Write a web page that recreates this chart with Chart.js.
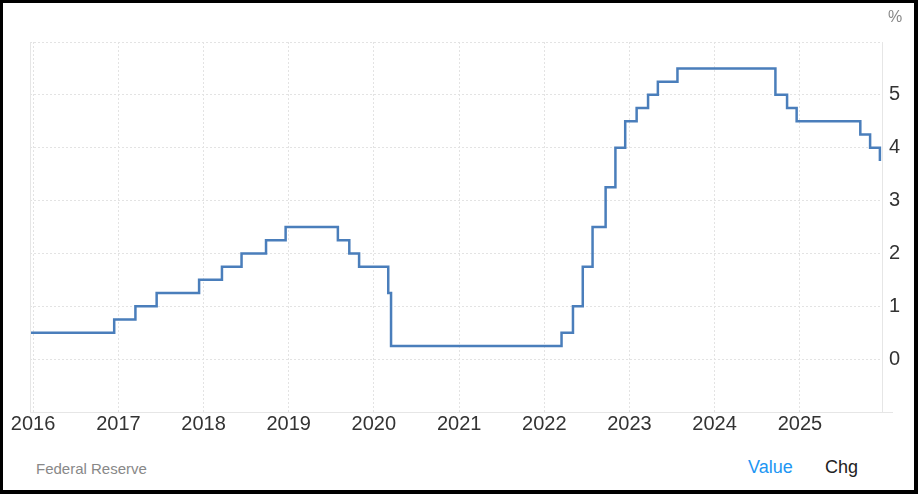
<!DOCTYPE html>
<html>
<head>
<meta charset="utf-8">
<script src="https://cdn.jsdelivr.net/npm/chart.js@4.4.1/dist/chart.umd.min.js"></script>
<style>
    html, body {
        margin: 0;
        padding: 0;
        background: #fff;
    }
    .frame {
        position: relative;
        width: 918px;
        height: 494px;
        box-sizing: border-box;
        border: 3px solid #000;
        border-right-width: 4px;
        border-bottom-width: 4px;
        background: #fff;
        font-family: "Liberation Sans", Arial, sans-serif;
    }
    .chart-box {
        position: absolute;
        left: 0;
        top: 0;
        width: 911px;
        height: 440px;
    }
    .unit {
        position: absolute;
        left: 885px;
        top: 5px;
        font-size: 16px;
        color: #888;
    }
    .source {
        position: absolute;
        left: 33px;
        top: 457px;
        font-size: 15px;
        color: #888;
    }
    .tab {
        position: absolute;
        top: 454px;
        font-size: 18px;
    }
    .tab.value { left: 745px; color: #2196f3; }
    .tab.chg { left: 822px; color: #222; }
</style>
</head>
<body>
<div class="frame">
    <div class="chart-box"><canvas id="rate-chart"></canvas></div>
    <div class="unit">%</div>
    <div class="source">Federal Reserve</div>
    <div class="tab value">Value</div>
    <div class="tab chg">Chg</div>
</div>
<script>
    // fed funds target (upper bound), one point per change
    const changeDates = [
        '2015-12-16', '2016-12-14', '2017-03-15', '2017-06-14', '2017-12-13',
        '2018-03-21', '2018-06-13', '2018-09-26', '2018-12-19', '2019-07-31',
        '2019-09-18', '2019-10-30', '2020-03-03', '2020-03-15', '2022-03-16',
        '2022-05-04', '2022-06-15', '2022-07-27', '2022-09-21', '2022-11-02',
        '2022-12-14', '2023-02-01', '2023-03-22', '2023-05-03', '2023-07-26',
        '2024-09-18', '2024-11-07', '2024-12-18', '2025-09-17', '2025-10-29',
        '2025-12-10'
    ];
    const rates = [
        0.50, 0.75, 1.00, 1.25, 1.50,
        1.75, 2.00, 2.25, 2.50, 2.25,
        2.00, 1.75, 1.25, 0.25, 0.50,
        1.00, 1.75, 2.50, 3.25, 4.00,
        4.50, 4.75, 5.00, 5.25, 5.50,
        5.00, 4.75, 4.50, 4.25, 4.00,
        3.75
    ];
    const yearTicks = [2016, 2017, 2018, 2019, 2020, 2021, 2022, 2023, 2024, 2025];
    const rateTicks = [0, 1, 2, 3, 4, 5];

    const xMin = Date.UTC(2015, 11, 19);
    const xMax = Date.UTC(2025, 11, 19);
    const gridColor = '#e3e3e3';
    const axisColor = '#e6e6e6';

    const points = changeDates.map(function(d, i) {
        return { x: Date.parse(d + 'T00:00:00Z'), y: rates[i] };
    });

    // frame lines: left edge of the plot and the little run of the base line past the right axis
    const frameLines = {
        id: 'frameLines',
        afterDraw: function(chart) {
            const ctx = chart.ctx;
            const area = chart.chartArea;
            ctx.save();
            ctx.strokeStyle = axisColor;
            ctx.lineWidth = 1;
            ctx.beginPath();
            ctx.moveTo(area.left + 0.5, area.top);
            ctx.lineTo(area.left + 0.5, area.bottom);
            ctx.moveTo(area.right, area.bottom + 0.5);
            ctx.lineTo(area.right + 11, area.bottom + 0.5);
            ctx.stroke();
            ctx.restore();
        }
    };

    const ctx = document.getElementById('rate-chart').getContext('2d');
    const rateChart = new Chart(ctx, {
        type: 'line',
        data: {
            datasets: [{
                data: points,
                stepped: true,
                borderColor: '#4a7ebb',
                borderWidth: 2.5,
                pointRadius: 0,
                fill: false
            }]
        },
        options: {
            responsive: true,
            maintainAspectRatio: false,
            animation: false,
            layout: {
                padding: { left: 27, top: 39, right: 0, bottom: 0 }
            },
            plugins: {
                legend: { display: false },
                tooltip: { enabled: false }
            },
            scales: {
                x: {
                    type: 'linear',
                    min: xMin,
                    max: xMax,
                    afterBuildTicks: function(scale) {
                        scale.ticks = yearTicks.map(function(y) {
                            return { value: Date.UTC(y, 0, 1) };
                        });
                    },
                    afterFit: function(scale) {
                        scale.height = 31;
                    },
                    ticks: {
                        autoSkip: false,
                        maxRotation: 0,
                        padding: 0,
                        color: '#333',
                        font: { family: '"Liberation Sans", Arial, sans-serif', size: 20 },
                        callback: function(value) {
                            return String(new Date(value).getUTCFullYear());
                        }
                    },
                    grid: {
                        color: gridColor,
                        drawTicks: false
                    },
                    border: {
                        display: true,
                        color: axisColor,
                        dash: [2, 2]
                    }
                },
                y: {
                    position: 'right',
                    min: -1,
                    max: 6,
                    afterBuildTicks: function(scale) {
                        scale.ticks = [-1].concat(rateTicks, [6]).map(function(v) {
                            return { value: v };
                        });
                    },
                    afterFit: function(scale) {
                        scale.width = 32;
                    },
                    ticks: {
                        padding: 7,
                        color: '#333',
                        font: { family: '"Liberation Sans", Arial, sans-serif', size: 20 },
                        callback: function(value) {
                            return rateTicks.indexOf(value) >= 0 ? String(value) : '';
                        }
                    },
                    grid: {
                        color: gridColor,
                        drawTicks: false
                    },
                    border: {
                        display: true,
                        color: axisColor,
                        dash: [2, 2]
                    }
                }
            }
        },
        plugins: [frameLines]
    });
</script>
</body>
</html>
